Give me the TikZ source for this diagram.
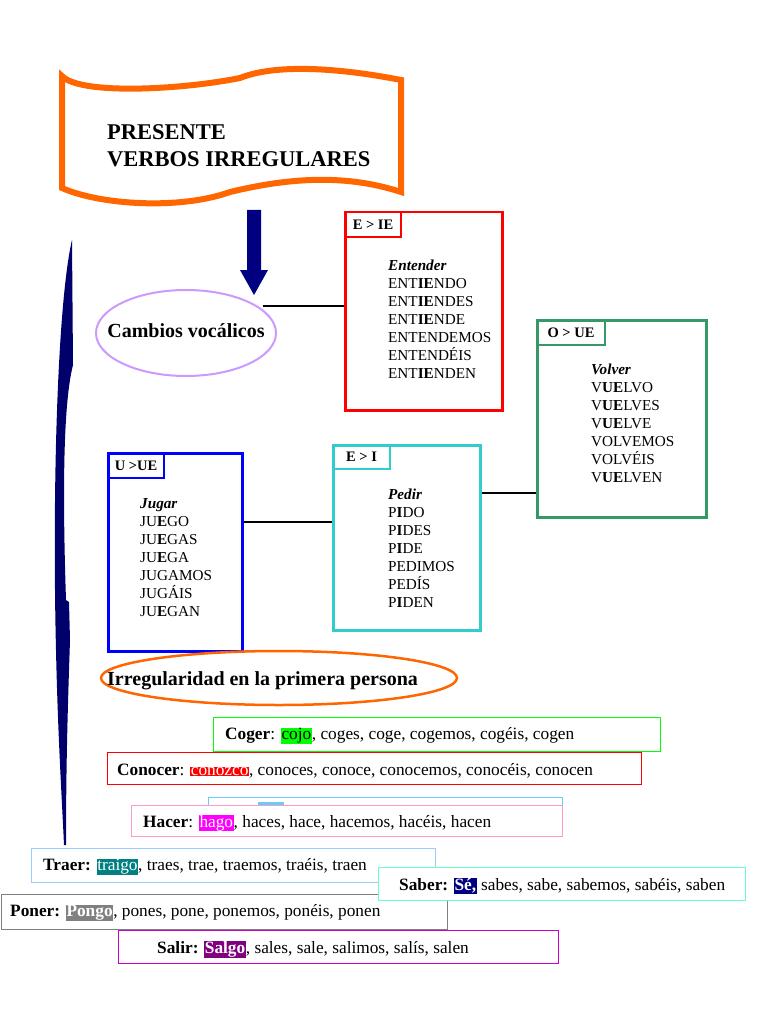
\documentclass[tikz,border=0pt]{standalone}
\usepackage{fontspec}
\setmainfont{Liberation Serif}
\usetikzlibrary{shapes.geometric}
\definecolor{borange}{RGB}{255,102,0}
\definecolor{bnavy}{RGB}{0,0,128}
\definecolor{bviolet}{RGB}{204,153,255}
\definecolor{bgreen}{RGB}{51,153,102}
\definecolor{bcyan}{RGB}{51,204,204}
\definecolor{bteal}{RGB}{0,128,128}
\definecolor{bpink}{RGB}{255,153,204}
\definecolor{blblue}{RGB}{153,204,255}
\definecolor{baqua}{RGB}{102,255,204}
\definecolor{bpurple}{RGB}{128,0,128}
\definecolor{bmag}{RGB}{204,0,204}
\definecolor{bhot}{RGB}{255,0,255}
\newcommand{\hlx}[3]{{\setlength{\fboxsep}{0.6pt}\colorbox{#1}{\textcolor{#2}{#3}}}}
\tikzset{
  vbox/.style={draw, line width=2.5pt, fill=white, anchor=north west, inner sep=0pt},
  tab/.style={draw, line width=2pt, anchor=north west, inner sep=0pt, font=\fontsize{14.5}{16}\selectfont\bfseries},
  verbs/.style={anchor=north west, align=left, inner sep=0pt, font=\fontsize{15.2}{18}\selectfont},
  conj/.style={draw, line width=1.2pt, fill=white, anchor=north west, inner sep=0pt},
  conjtxt/.style={anchor=west, inner sep=0pt, font=\fontsize{17.3}{19}\selectfont},
  link/.style={line width=1.5pt}
}
\begin{document}
\begin{tikzpicture}[x=1pt,y=-1pt]
\useasboundingbox (0,0) rectangle (768,1024);
% banner
\draw[borange, line width=6pt, fill=white]
 (62,76) .. controls (80,95) and (180,90) .. (240,78) .. controls (280,62) and (350,70) .. (401,80)
 -- (401,192) .. controls (340,172) and (280,180) .. (230,192) .. controls (180,210) and (100,205) .. (62,188) -- cycle;
\node[anchor=west, align=left, inner sep=0pt, font=\fontsize{22.5}{27}\selectfont\bfseries] (title) at (107,146) {PRESENTE\\VERBOS IRREGULARES};
% left swoosh
\fill[bnavy!85!black] (72,240) .. controls (58,300) and (52,480) .. (56,650) .. controls (58,740) and (62,800) .. (64,845)
  -- (66,845) .. controls (66,760) and (68,700) .. (70,640) -- (69,602) -- (66,600) .. controls (62,480) and (64,400) .. (73,365) -- cycle;
% ellipse
\node[ellipse, draw=bviolet, line width=2pt, minimum width=180, minimum height=86, inner sep=0pt] (cv) at (186,333) {};
\node[inner sep=0pt, font=\fontsize{20}{22}\selectfont\bfseries] (cvt) at (186,331) {Cambios vocálicos};
% arrow
\fill[bnavy] (247,210) -- (261,210) -- (261,270) -- (268,270) -- (254,295) -- (240,270) -- (247,270) -- cycle;
% E>IE
\node[vbox, draw=red, minimum width=157, minimum height=198] (eie) at (344,211) {};
\node[tab, draw=red, minimum width=56, minimum height=25] (teie) at (344,211) {E > IE};
\node[verbs] (veie) at (388,260) {\textbf{\textit{Entender}}\\ENT\textbf{IE}NDO\\ENT\textbf{IE}NDES\\ENT\textbf{IE}NDE\\ENTENDEMOS\\ENTENDÉIS\\ENT\textbf{IE}NDEN};
% O>UE
\node[vbox, draw=bgreen, minimum width=169, minimum height=197] (oue) at (536,319) {};
\node[tab, draw=bgreen, minimum width=68, minimum height=25] (toue) at (536,319) {O > UE};
\node[verbs] (voue) at (591,364) {\textbf{\textit{Volver}}\\V\textbf{UE}LVO\\V\textbf{UE}LVES\\V\textbf{UE}LVE\\VOLVEMOS\\VOLVÉIS\\V\textbf{UE}LVEN};
% E>I
\node[vbox, draw=bcyan, minimum width=147, minimum height=185] (ei) at (332,444) {};
\node[tab, draw=bcyan, minimum width=57, minimum height=24] (tei) at (332,444) {E > I};
\node[verbs] (vei) at (388,489) {\textbf{\textit{Pedir}}\\P\textbf{I}DO\\P\textbf{I}DES\\P\textbf{I}DE\\PEDIMOS\\PEDÍS\\P\textbf{I}DEN};
% U>UE
\node[vbox, draw=blue, minimum width=134, minimum height=198] (uue) at (107,452) {};
\node[tab, draw=blue, minimum width=56, minimum height=25] (tuue) at (107,452) {U >UE};
\node[verbs] (vuue) at (140,498) {\textbf{\textit{Jugar}}\\JU\textbf{E}GO\\JU\textbf{E}GAS\\JU\textbf{E}GA\\JUGAMOS\\JUGÁIS\\JU\textbf{E}GAN};
% links
\draw[link] (263,306) -- (eie.west |- 0,306);
\draw[link] (uue.east |- 0,522) -- (ei.west |- 0,522);
\draw[link] (ei.east |- 0,493) -- (oue.west |- 0,493);
% irregularidad
\node[ellipse, draw=borange, line width=2.5pt, minimum width=356, minimum height=54, inner sep=0pt] (irr) at (279,678) {};
\node[anchor=west, inner sep=0pt, font=\fontsize{20}{22}\selectfont\bfseries] (irrt) at (107,681) {Irregularidad en la primera persona};
% conjugations
\node[conj, draw=green, minimum width=447, minimum height=34] (coger) at (213,717) {};
\node[conjtxt] at (225,736) {\textbf{Coger}: \hlx{green}{black}{cojo}, coges, coge, cogemos, cogéis, cogen};
\node[conj, draw=red, minimum width=534, minimum height=32] (conocer) at (107,752) {};
\node[conjtxt] at (117,771) {\textbf{Conocer}: \hlx{red}{white}{conozco}, conoces, conoce, conocemos, conocéis, conocen};
\node[conj, draw=cyan!60, minimum width=354, minimum height=14] (hid) at (208,797) {};
\fill[cyan!60] (258,802) rectangle (284,806);
\node[conj, draw=bpink, minimum width=431, minimum height=31] (hacer) at (131,805) {};
\node[conjtxt] at (143,823) {\textbf{Hacer}: \hlx{bhot}{white}{hago}, haces, hace, hacemos, hacéis, hacen};
\node[conj, draw=blblue, minimum width=404, minimum height=34] (traer) at (31,848) {};
\node[conjtxt] at (43,867) {\textbf{Traer:} \hlx{bteal}{white}{traigo}, traes, trae, traemos, traéis, traen};
\node[conj, draw=gray, minimum width=446, minimum height=35] (poner) at (1,894) {};
\node[conjtxt] at (10,913) {\textbf{Poner:} \hlx{gray}{white}{\textbf{Pongo}}, pones, pone, ponemos, ponéis, ponen};
\node[conj, draw=baqua, minimum width=367, minimum height=33] (saber) at (378,867) {};
\node[conjtxt] at (399,886) {\textbf{Saber:} \hlx{bnavy}{white}{\textbf{Sé,}} sabes, sabe, sabemos, sabéis, saben};
\node[conj, draw=bmag, minimum width=440, minimum height=33] (salir) at (118,930) {};
\node[conjtxt] at (157,949) {\textbf{Salir:} \hlx{bpurple}{white}{\textbf{Salgo}}, sales, sale, salimos, salís, salen};
\end{tikzpicture}
\end{document}
